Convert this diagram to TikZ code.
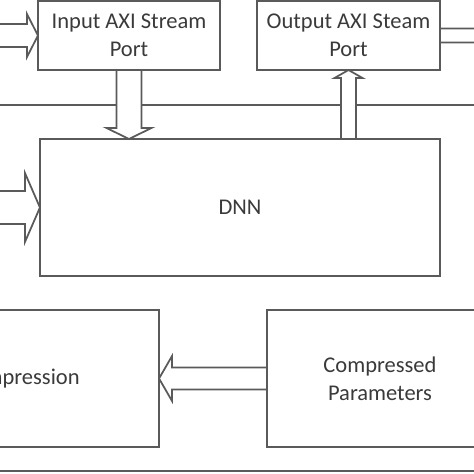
\documentclass[tikz,border=0pt]{standalone}
\usepackage{fontspec}
\setmainfont{Carlito}
\usetikzlibrary{calc}

\definecolor{edgegray}{HTML}{5A5A5A}
\definecolor{textgray}{HTML}{3A3A3A}

\begin{document}
\begin{tikzpicture}[x=0.025cm, y=-0.025cm,
    blockbox/.style={draw=edgegray, line width=1.25pt, inner sep=0pt, outer sep=0pt,
        align=center, text=textgray, font=\fontsize{16}{20}\selectfont},
    fatarrow/.style={draw=edgegray, line width=1.25pt, fill=white, line join=miter}]

        \useasboundingbox (0,0) rectangle (474,474);
        \clip (0,0) rectangle (474,474);

        % region borders
        \draw[edgegray, line width=1.25pt] (-5,105) -- (480,105);
        \draw[edgegray, line width=1.25pt] (-5,471) -- (480,471);

        % blocks
        \node[blockbox, minimum width=4.55cm, minimum height=1.725cm] (inport) at (129,35.5) {Input AXI Stream\\Port};
        \node[blockbox, minimum width=4.575cm, minimum height=1.725cm] (outport) at (348.5,35.5) {Output AXI Steam\\Port};
        \node[blockbox, minimum width=10cm, minimum height=3.425cm] (dnn) at (240,207.5) {DNN};
        \node[blockbox, minimum width=7.5cm, minimum height=3.425cm] (decomp) at (9,378.5) {Decompression};
        \node[blockbox, minimum width=5.65cm, minimum height=3.425cm] (cparams) at (380,378.5) {Compressed\\Parameters};

        \coordinate (insrc) at (-20,35.5);
        \coordinate (outdst) at (520,35.5);
        \coordinate (dnnsrc) at (-20,207.5);

        % block arrows
        \draw[fatarrow] ($(insrc)+(0,-11.5)$) -- ($(inport.west)+(-11,-11.5)$) -- ($(inport.west)+(-11,-21.5)$)
            -- (inport.west) -- ($(inport.west)+(-11,21.5)$) -- ($(inport.west)+(-11,11.5)$) -- ($(insrc)+(0,11.5)$) -- cycle;
        \draw[fatarrow] ($(outport.east)+(0,-7)$) -- ($(outdst)+(-12,-7)$) -- ($(outdst)+(-12,-14)$)
            -- (outdst) -- ($(outdst)+(-12,14)$) -- ($(outdst)+(-12,7)$) -- ($(outport.east)+(0,7)$) -- cycle;
        \draw[fatarrow] ($(inport.south)+(-12.5,0)$) -- ($(inport.south |- dnn.north)+(-12.5,-11)$) -- ($(inport.south |- dnn.north)+(-22.5,-11)$)
            -- (inport.south |- dnn.north) -- ($(inport.south |- dnn.north)+(22.5,-11)$) -- ($(inport.south |- dnn.north)+(12.5,-11)$) -- ($(inport.south)+(12.5,0)$) -- cycle;
        \draw[fatarrow] ($(outport.south |- dnn.north)+(-7.5,0)$) -- ($(outport.south)+(-7.5,8)$) -- ($(outport.south)+(-14,8)$)
            -- (outport.south) -- ($(outport.south)+(14,8)$) -- ($(outport.south)+(7.5,8)$) -- ($(outport.south |- dnn.north)+(7.5,0)$) -- cycle;
        \draw[fatarrow] ($(dnnsrc)+(0,-16.5)$) -- ($(dnn.west)+(-15,-16.5)$) -- ($(dnn.west)+(-15,-34.5)$)
            -- (dnn.west) -- ($(dnn.west)+(-15,34.5)$) -- ($(dnn.west)+(-15,16.5)$) -- ($(dnnsrc)+(0,16.5)$) -- cycle;
        \draw[fatarrow] ($(cparams.west)+(0,-11)$) -- ($(decomp.east)+(13,-11)$) -- ($(decomp.east)+(13,-22.5)$)
            -- (decomp.east) -- ($(decomp.east)+(13,22.5)$) -- ($(decomp.east)+(13,11)$) -- ($(cparams.west)+(0,11)$) -- cycle;
\end{tikzpicture}
\end{document}
